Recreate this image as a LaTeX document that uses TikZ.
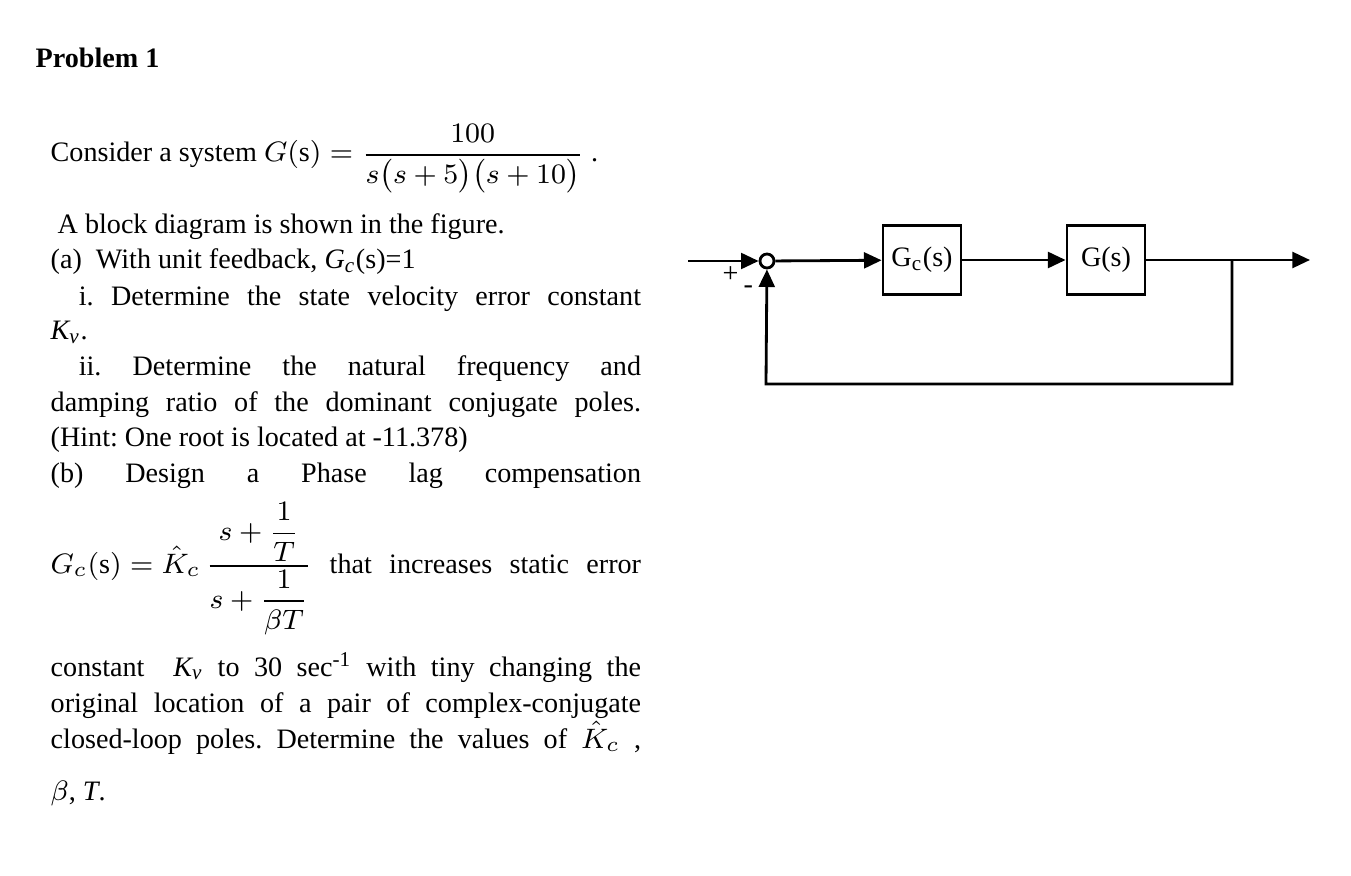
\documentclass[tikz,border=0pt]{standalone}
\usepackage{amsmath}
\usepackage{fontspec}
\setmainfont{Liberation Serif}
\usetikzlibrary{arrows.meta}
\frenchspacing
\begin{document}
\begin{tikzpicture}[x=0.01cm,y=-0.01cm,
  txt/.style={anchor=base west,inner sep=0,font=\fontsize{8}{10}\selectfont},
  blk/.style={draw,thick,minimum width=0.78cm,minimum height=0.69cm,inner sep=0,font=\fontsize{8}{10}\selectfont},
  ln/.style={thick,-{Triangle[length=5pt,width=4.5pt]}}]
\useasboundingbox[fill=white] (0,0) rectangle (1351,876);
\newcommand{\jl}[1]{\makebox[5.9cm][s]{#1}}
\node[txt,font=\fontsize{8}{10}\selectfont\bfseries] (p) at (35,68) {Problem 1};
\node[txt] (c) at (50,162) {Consider a system \mbox{\(G(\mathrm{s})=\dfrac{100}{s\big(s+5\big)\big(s+10\big)}\)} .};
\node[txt] (l1) at (57,234) {A block diagram is shown in the figure.};
\node[txt] (l2) at (50,269) {(a)\ \ With unit feedback, \textit{G\textsubscript{c}}(s)=1};
\node[txt] (l3) at (50,305) {\jl{\hspace{8pt}i. Determine the state velocity error constant}};
\node[txt] (l4) at (50,340) {\textit{K\textsubscript{v}}.};
\node[txt] (l5) at (50,376) {\jl{\hspace{8pt}ii. Determine the natural frequency and}};
\node[txt] (l6) at (50,411) {\jl{damping ratio of the dominant conjugate poles.}};
\node[txt] (l7) at (50,446) {(Hint: One root is located at -11.378)};
\node[txt] (l8) at (50,482) {\jl{(b) Design a Phase lag compensation}};
\node[txt] (l9) at (50,573) {\makebox[5.9cm][s]{\mbox{\(G_c(\mathrm{s})=\hat{K}_c\,\dfrac{s+\dfrac{1}{T}}{s+\dfrac{1}{\beta T}}\)} that increases static error}};
\node[txt] (l10) at (50,676) {\jl{constant \ \textit{K\textsubscript{v}} to 30 sec\textsuperscript{-1} with tiny changing the}};
\node[txt] (l11) at (50,712) {\jl{original location of a pair of complex-conjugate}};
\node[txt] (l12) at (50,748) {\jl{closed-loop poles. Determine the values of \mbox{\(\hat{K}_c\)} ,}};
\node[txt] (l13) at (50,800) {\(\beta\), \textit{T}.};
% diagram
\coordinate (in) at (688,261);
\node[draw,thick,circle,minimum size=0.14cm,inner sep=0] (sum) at (767,261) {};
\node[blk] (gc) at (922,260) {G\textsubscript{c}(s)};
\node[blk] (g) at (1106,260) {G(s)};
\coordinate (br) at (1232,260);
\coordinate (out) at (1310,260);
\coordinate (bd) at (1232,384);
\coordinate (fb) at (766,384);
\draw[ln] (in) -- (sum);
\draw[ln] (sum) -- (gc);
\draw[ln] (gc) -- (g);
\draw[ln] (g) -- (out);
\draw[ln] (br) -- (bd) -- (fb) -- (sum);
\node[txt] (plus) at (722,282) {+};
\node[txt] (minus) at (743,294) {-};
\end{tikzpicture}
\end{document}
